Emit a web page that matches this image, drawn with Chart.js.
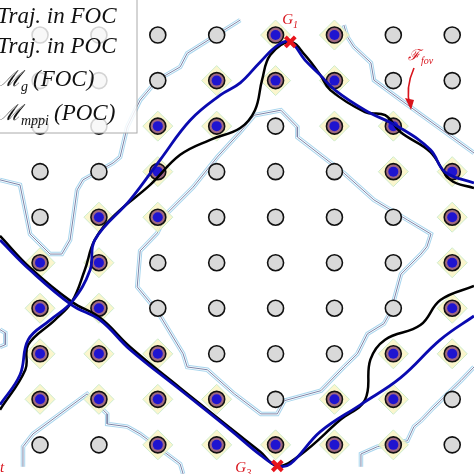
<!DOCTYPE html>
<html>
<head>
<meta charset="utf-8">
<script src="https://cdn.jsdelivr.net/npm/chart.js@4.4.0/dist/chart.umd.min.js"></script>
<style>
  html, body { margin: 0; padding: 0; background: #fff; }
  canvas { display: block; }
</style>
</head>
<body>
<canvas id="c" width="474" height="474"></canvas>
<script>
// grid of candidate cells (column, row)
const cols = [0, 1, 2, 3, 4, 5, 6, 7];
const rows = [0, 1, 2, 3, 4, 5, 6, 7, 8, 9];

// cells picked by the planner (blue dots)
const picked = [
    [4, 0], [5, 0],
    [3, 1], [4, 1], [5, 1],
    [2, 2], [3, 2], [5, 2], [6, 2],
    [2, 3], [6, 3], [7, 3],
    [1, 4], [2, 4], [7, 4],
    [0, 5], [1, 5], [7, 5],
    [0, 6], [1, 6], [7, 6],
    [0, 7], [1, 7], [2, 7], [6, 7], [7, 7],
    [0, 8], [1, 8], [2, 8], [3, 8], [5, 8], [6, 8],
    [2, 9], [3, 9], [4, 9], [5, 9], [6, 9]
];

// trajectories
const trajFocA = [[-0.68,8.23],[-0.25,7.35],[-0.20,6.80],[0.25,6.26],[0.54,5.86],[0.76,5.16],[0.93,4.50],[1.27,3.95],[1.87,3.29],[2.38,2.63],[2.89,2.30],[3.40,2.04],[3.65,1.65],[3.77,0.99],[3.91,0.44],[4.25,0.15],[4.50,0.44],[4.76,0.88],[4.93,1.21],[5.52,1.69],[5.86,1.76],[6.12,2.13],[6.63,2.57],[6.97,3.18],[7.37,3.36]];
const trajFocB = [[-0.68,4.41],[-0.17,5.11],[0.54,5.86],[1.02,6.21],[1.53,6.85],[2.38,7.75],[3.23,8.63],[3.74,9.15],[4.03,9.46],[4.42,9.22],[5.10,8.45],[5.52,8.01],[5.61,7.13],[5.86,6.69],[6.46,6.37],[6.80,5.82],[7.37,5.51]];
const trajPocA = [[-0.68,8.12],[-0.34,7.46],[-0.20,6.69],[0.17,6.26],[0.54,5.86],[0.85,5.16],[0.93,4.50],[1.53,3.62],[2.04,2.74],[2.55,1.87],[3.06,1.32],[3.40,1.05],[3.74,0.59],[4.04,0.22],[4.25,0.15],[4.50,0.55],[4.76,0.88],[5.01,1.21],[5.52,1.65],[6.12,2.04],[6.63,2.52],[6.88,3.01],[7.37,3.25]];
const trajPocB = [[-0.68,4.50],[-0.17,5.16],[0.54,5.93],[1.02,6.26],[1.53,6.91],[2.38,7.79],[3.23,8.67],[3.74,9.22],[4.03,9.46],[4.25,9.42],[4.76,8.71],[5.44,8.12],[6.12,7.53],[6.80,6.69],[7.37,6.17]];

// field-of-view boundaries
const fovInner = [[3.64,1.76],[4.09,1.65],[4.37,2.02],[4.37,2.24],[5.16,3.03],[5.67,3.62],[6.24,4.06],[6.64,4.37],[6.57,4.65],[6.47,4.81],[6.13,5.25],[5.96,6.06],[5.84,6.34],[5.56,6.56],[5.39,7.00],[5.16,7.29],[4.77,7.81],[4.15,8.03],[4.03,8.32],[3.75,8.32],[3.30,7.88],[2.84,7.35],[2.50,7.29],[2.43,7.00],[1.99,6.06],[1.65,5.53],[1.70,4.74],[1.99,4.35],[2.16,3.91],[2.60,3.34],[3.01,2.68],[3.40,2.13],[3.64,1.76]];
const fovUpperLeft = [[3.40,-0.33],[2.50,0.40],[2.38,0.70],[1.99,0.99],[1.70,1.43],[1.48,2.02],[1.36,2.68],[1.24,2.81],[0.73,3.18],[0.63,3.40],[0.51,4.50],[0.37,4.81],[0.17,4.81],[-0.17,4.37],[-0.34,3.29],[-0.68,3.18]];
const fovUpperRight = [[5.16,-0.22],[5.22,0.04],[5.33,0.26],[5.62,0.61],[5.67,0.99],[6.13,1.43],[7.37,2.59]];
const fovLowerLeft = [[-0.29,9.48],[-0.29,9.04],[-0.12,8.76],[0.80,7.88],[1.02,8.17],[1.14,8.32],[1.14,8.54],[1.48,8.60],[1.70,8.76],[1.99,9.04],[2.38,9.42],[2.43,9.64]];
const fovLowerRight = [[5.45,9.48],[5.45,9.20],[5.73,9.04],[6.24,8.91],[6.35,8.60],[6.47,8.47],[6.69,8.17],[7.15,7.59],[7.37,7.29]];
const fovSmall = [[-0.68,6.47],[-0.59,6.54],[-0.59,6.80],[-0.68,6.85]];

const goals = [[4.25, 0.15], [4.03, 9.46]];

const pt = a => a.map(p => ({ x: p[0], y: p[1] }));
const isPicked = (c, r) => picked.some(p => p[0] === c && p[1] === r);

const grayCells = [];
rows.forEach(r => cols.forEach(c => { if (!isPicked(c, r)) grayCells.push([c, r]); }));

const datasets = [];

// boundaries: light blue band, white gap, dark centre line
[fovInner, fovUpperLeft, fovUpperRight, fovLowerLeft, fovLowerRight, fovSmall].forEach(b => {
    [['#a9d6ee', 4.5, 62], ['#ffffff', 2.5, 61], ['#7c84a8', 1, 60]].forEach(([col, w, o]) => {
        datasets.push({ type: 'line', data: pt(b), borderColor: col, borderWidth: w,
            pointRadius: 0, tension: 0, fill: false, order: o });
    });
});

datasets.push({ data: pt(picked), pointStyle: 'rectRot', pointRadius: 15,
    backgroundColor: 'rgba(250,244,196,0.85)', borderColor: '#cdeccd', borderWidth: 1, order: 42 });
datasets.push({ data: pt(grayCells), pointStyle: 'circle', pointRadius: 8,
    backgroundColor: '#d9d9d9', borderColor: '#111', borderWidth: 1.6, order: 40 });
datasets.push({ data: pt(picked), pointStyle: 'circle', pointRadius: 8,
    backgroundColor: '#a06a80', borderColor: '#111', borderWidth: 1.6, order: 39 });
datasets.push({ data: pt(picked), pointStyle: 'circle', pointRadius: 5,
    backgroundColor: '#1f14d0', borderWidth: 0, order: 38 });

[trajFocA, trajFocB].forEach(t => datasets.push({ type: 'line', data: pt(t), borderColor: '#000',
    borderWidth: 2.5, pointRadius: 0, tension: 0.4, order: 20 }));
[trajPocA, trajPocB].forEach(t => datasets.push({ type: 'line', data: pt(t), borderColor: '#0a0ab0',
    borderWidth: 2.8, pointRadius: 0, tension: 0.4, order: 10 }));

datasets.push({ data: pt(goals), pointStyle: 'crossRot', pointRadius: 7,
    borderColor: '#e8141c', borderWidth: 4, order: 1 });

const overlay = {
    id: 'overlay',
    afterDraw(chart) {
        const ctx = chart.ctx;
        const xs = chart.scales.x, ys = chart.scales.y;
        ctx.save();
        // legend box
        ctx.fillStyle = 'rgba(255,255,255,0.82)';
        ctx.fillRect(-2, -2, 139, 135);
        ctx.strokeStyle = '#aaa';
        ctx.lineWidth = 1;
        ctx.strokeRect(-2, -2, 139, 135);
        ctx.fillStyle = '#111';
        ctx.textBaseline = 'alphabetic';
        ctx.font = 'italic 23px "Liberation Serif"';
        ctx.fillText('Traj. in FOC', -3, 23);
        ctx.fillText('Traj. in POC', -3, 53);
        const mathItem = (sub, rest, y) => {
            ctx.font = 'italic 22px "DejaVu Serif"';
            ctx.fillText('ℳ', -4, y);
            let w = ctx.measureText('ℳ').width - 4;
            ctx.font = 'italic 14px "Liberation Serif"';
            ctx.fillText(sub, w, y + 5);
            w += ctx.measureText(sub).width + 5;
            ctx.font = 'italic 23px "Liberation Serif"';
            ctx.fillText(rest, w, y);
        };
        mathItem('g', '(FOC)', 86);
        mathItem('mppi', '(POC)', 120);

        // red annotations
        ctx.fillStyle = '#d8141c';
        ctx.strokeStyle = '#d8141c';
        const lbl = (t, s, x, y) => {
            ctx.font = 'italic 15px "Liberation Serif"';
            ctx.fillText(t, x, y);
            const w = ctx.measureText(t).width;
            ctx.font = 'italic 10px "Liberation Serif"';
            ctx.fillText(s, x + w, y + 4);
        };
        const g1 = goals[0], g3 = goals[1];
        lbl('G', '1', xs.getPixelForValue(g1[0]) - 8, ys.getPixelForValue(g1[1]) - 18);
        lbl('G', '3', xs.getPixelForValue(g3[0]) - 42, ys.getPixelForValue(g3[1]) + 6);
        ctx.font = 'italic 15px "DejaVu Serif"';
        ctx.fillText('ℱ', 408, 60);
        ctx.font = 'italic 10px "Liberation Serif"';
        ctx.fillText('fov', 421, 64);
        ctx.font = 'italic 15px "Liberation Serif"';
        ctx.fillText('t', 0, 472);
        // arrow
        ctx.lineWidth = 1.6;
        ctx.beginPath();
        ctx.moveTo(414, 68);
        ctx.quadraticCurveTo(405, 88, 410, 106);
        ctx.stroke();
        ctx.beginPath();
        ctx.moveTo(411, 110);
        ctx.lineTo(405, 98);
        ctx.lineTo(414, 100);
        ctx.closePath();
        ctx.fill();
        ctx.restore();
    }
};

new Chart(document.getElementById('c'), {
    type: 'scatter',
    data: { datasets },
    options: {
        responsive: false,
        animation: false,
        layout: { padding: 0, autoPadding: false },
        plugins: { legend: { display: false }, tooltip: { enabled: false } },
        scales: {
            x: { type: 'linear', min: -0.68, max: 7.37, display: false },
            y: { type: 'linear', min: -0.77, max: 9.64, reverse: true, display: false }
        }
    },
    plugins: [overlay]
});
</script>
</body>
</html>
